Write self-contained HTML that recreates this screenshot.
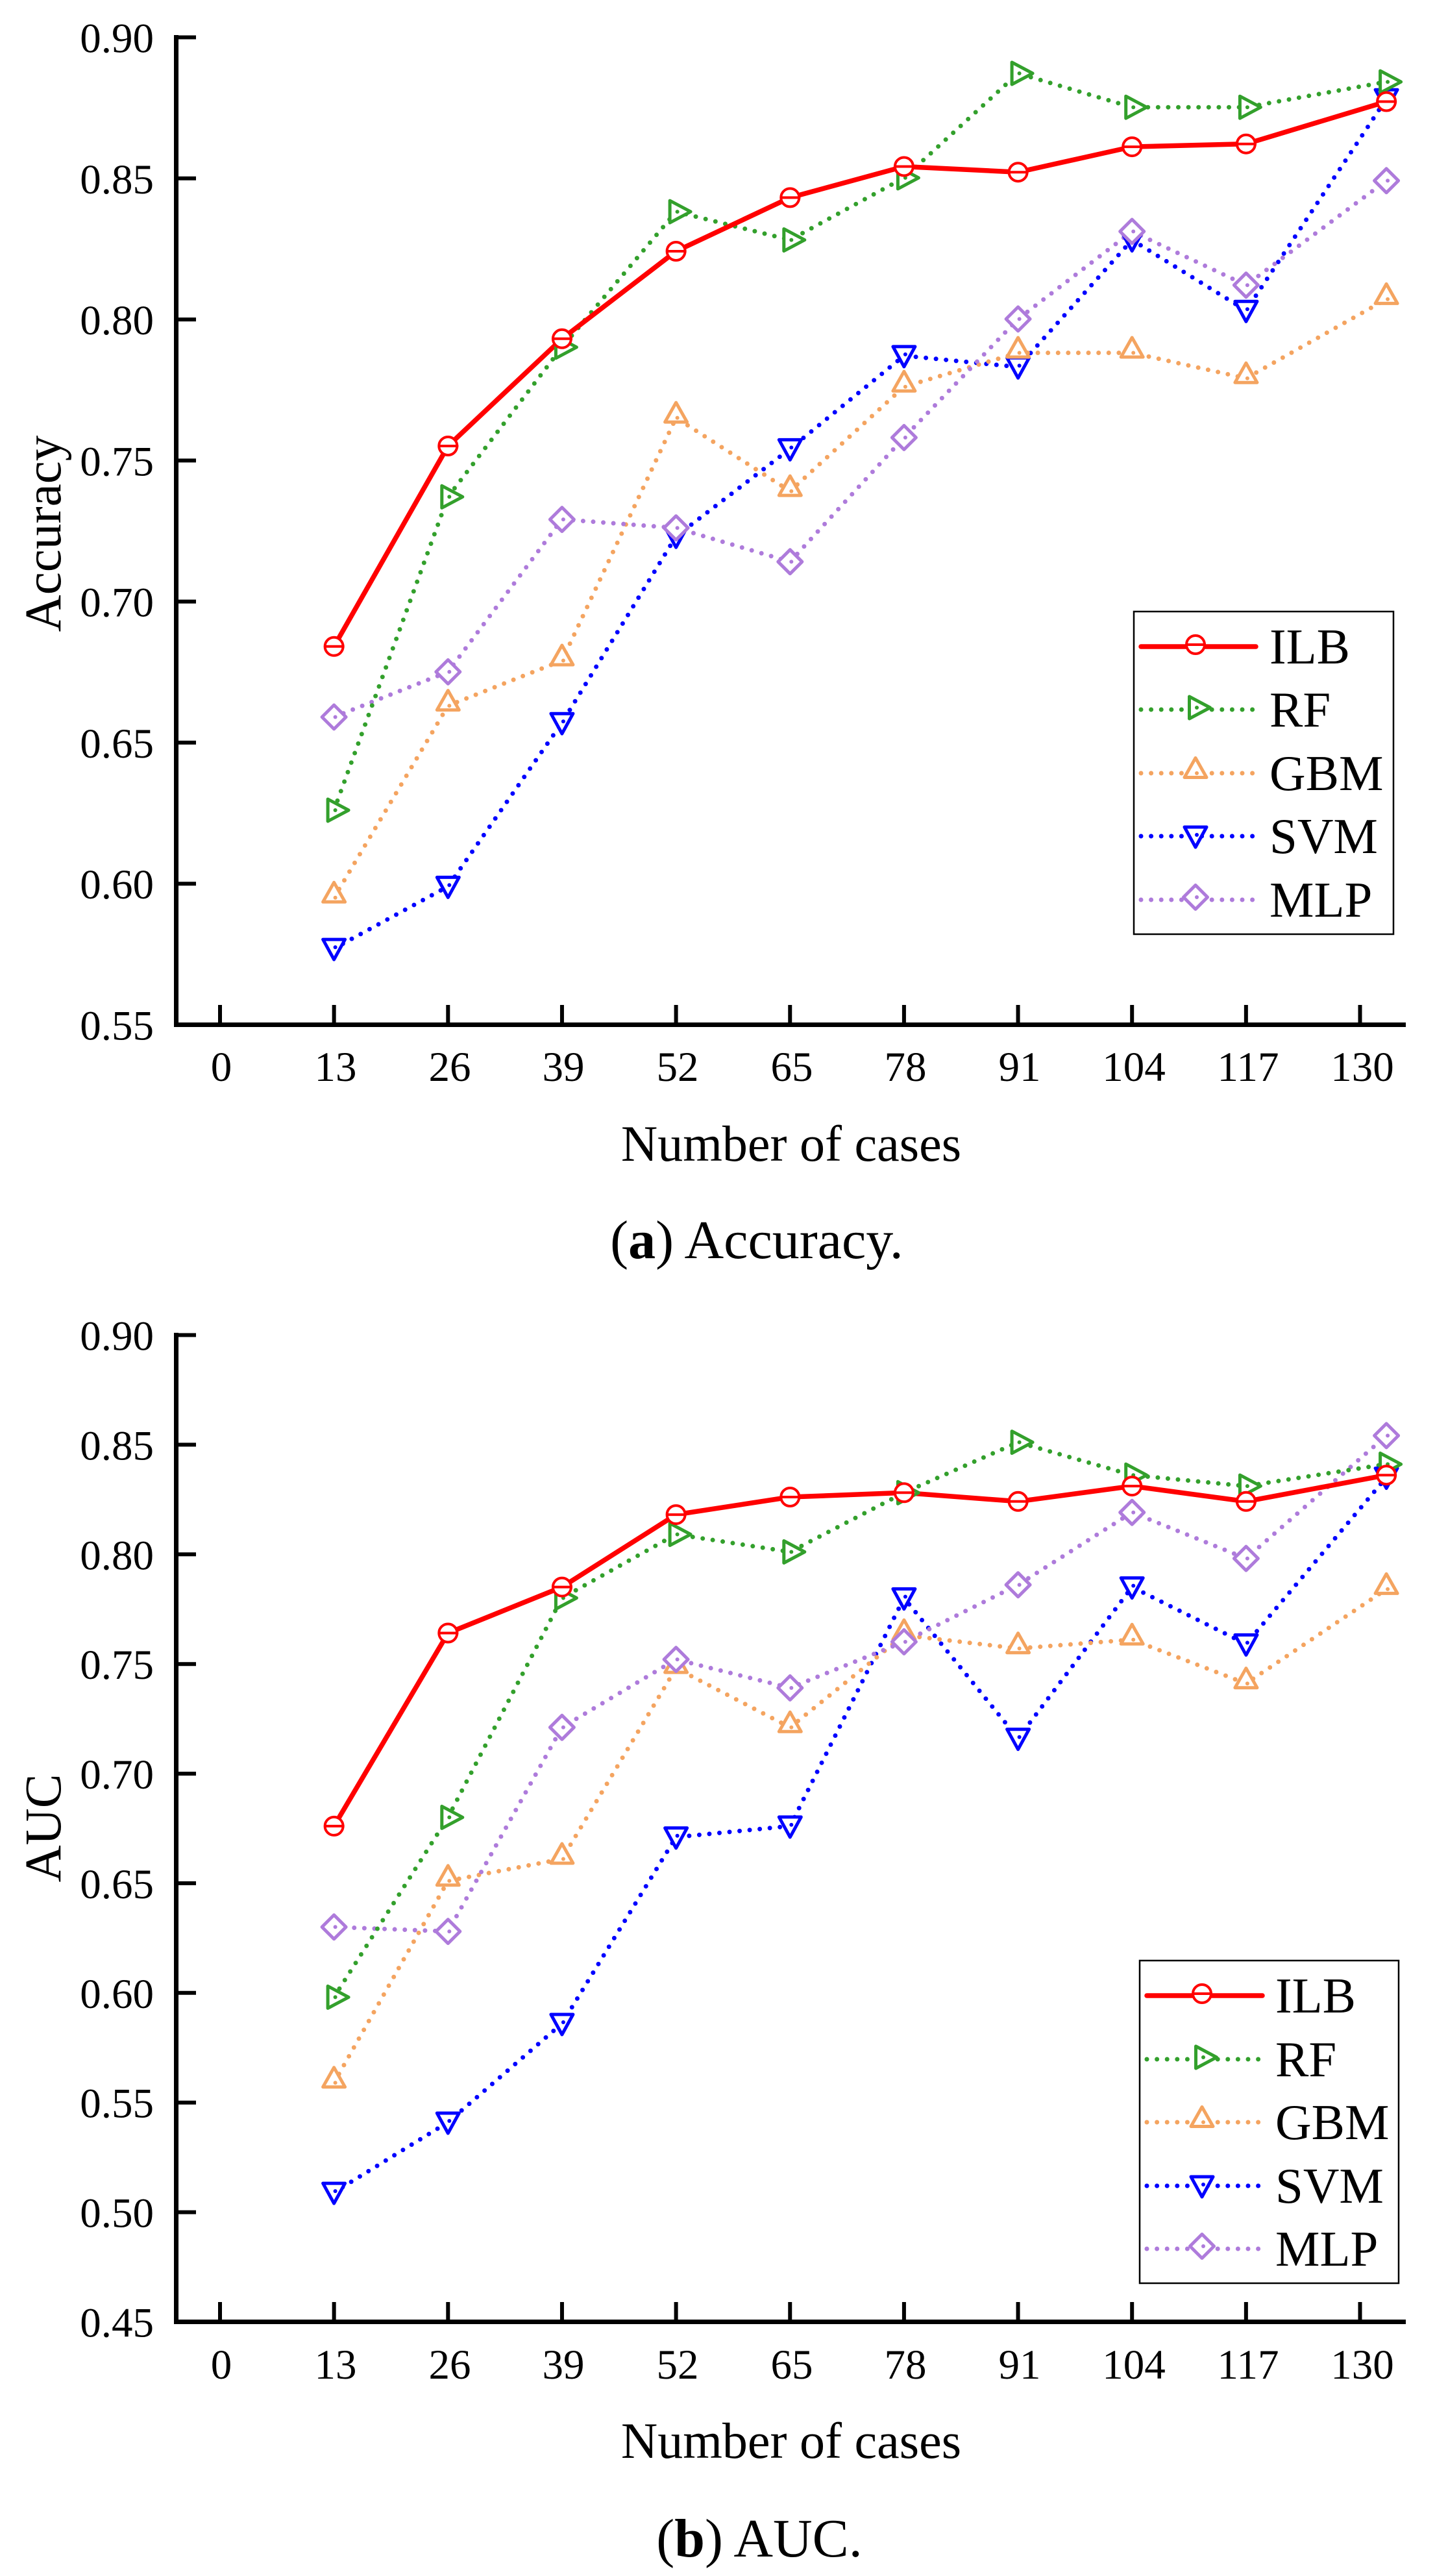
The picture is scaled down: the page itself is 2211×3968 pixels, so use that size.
<!DOCTYPE html>
<html>
<head>
<meta charset="utf-8">
<style>
  html, body { margin: 0; padding: 0; background: #ffffff; }
  svg { display: block; }
  text { font-family: "Liberation Serif", "Times New Roman", serif; fill: #000; }
</style>
</head>
<body>
<svg xmlns="http://www.w3.org/2000/svg" width="2211" height="3968" viewBox="0 0 2211 3968">
  <defs>
    <g id="mILB">
      <circle r="14" fill="#fff" stroke="#ff0000" stroke-width="4"/>
      <line x1="-15" y1="0" x2="16" y2="0" stroke="#ff0000" stroke-width="4"/>
    </g>
    <g id="mRF">
      <path d="M-9.5,-17 L22.5,0 L-9.5,17 Z" fill="#fff" stroke="#33a02c" stroke-width="5" stroke-linejoin="round"/>
      <circle cx="2" cy="0" r="3" fill="#33a02c"/>
    </g>
    <g id="mGBM">
      <path d="M0,-23.5 L17,6.5 L-17,6.5 Z" fill="#fff" stroke="#f4a460" stroke-width="5" stroke-linejoin="round"/>
      <circle cx="2" cy="0" r="3" fill="#f4a460"/>
    </g>
    <g id="mSVM">
      <path d="M-17,-14 L17,-14 L0,17 Z" fill="#fff" stroke="#0000ff" stroke-width="5" stroke-linejoin="round"/>
      <circle cx="2" cy="-2" r="3" fill="#0000ff"/>
    </g>
    <g id="mMLP">
      <path d="M0,-18.5 L18.5,0 L0,18.5 L-18.5,0 Z" fill="#fff" stroke="#ae7bdb" stroke-width="5" stroke-linejoin="round"/>
      <circle cx="2" cy="0" r="3" fill="#ae7bdb"/>
    </g>
  </defs>

  <!-- ================= TOP CHART (Accuracy) ================= -->
  <!-- axes -->
  <g stroke="#000" fill="none">
    <line x1="271.5" y1="54" x2="271.5" y2="1582" stroke-width="7"/>
    <line x1="268" y1="1578.5" x2="2166" y2="1578.5" stroke-width="7"/>
    <!-- y ticks -->
    <g stroke-width="6">
      <line x1="268" y1="57.5" x2="302" y2="57.5"/>
      <line x1="268" y1="274.8" x2="302" y2="274.8"/>
      <line x1="268" y1="492.1" x2="302" y2="492.1"/>
      <line x1="268" y1="709.4" x2="302" y2="709.4"/>
      <line x1="268" y1="926.6" x2="302" y2="926.6"/>
      <line x1="268" y1="1143.9" x2="302" y2="1143.9"/>
      <line x1="268" y1="1361.2" x2="302" y2="1361.2"/>
    </g>
    <!-- x ticks -->
    <g stroke-width="6">
      <line x1="339" y1="1548" x2="339" y2="1578"/>
      <line x1="514.65" y1="1548" x2="514.65" y2="1578"/>
      <line x1="690.3" y1="1548" x2="690.3" y2="1578"/>
      <line x1="865.95" y1="1548" x2="865.95" y2="1578"/>
      <line x1="1041.6" y1="1548" x2="1041.6" y2="1578"/>
      <line x1="1217.25" y1="1548" x2="1217.25" y2="1578"/>
      <line x1="1392.9" y1="1548" x2="1392.9" y2="1578"/>
      <line x1="1568.55" y1="1548" x2="1568.55" y2="1578"/>
      <line x1="1744.2" y1="1548" x2="1744.2" y2="1578"/>
      <line x1="1919.85" y1="1548" x2="1919.85" y2="1578"/>
      <line x1="2095.5" y1="1548" x2="2095.5" y2="1578"/>
    </g>
  </g>
  <!-- y tick labels -->
  <g font-size="65" text-anchor="end">
    <text x="237" y="80.5">0.90</text>
    <text x="237" y="297.8">0.85</text>
    <text x="237" y="515.1">0.80</text>
    <text x="237" y="732.4">0.75</text>
    <text x="237" y="949.6">0.70</text>
    <text x="237" y="1166.9">0.65</text>
    <text x="237" y="1384.2">0.60</text>
    <text x="237" y="1601.5">0.55</text>
  </g>
  <!-- x tick labels -->
  <g font-size="65" text-anchor="middle">
    <text x="341" y="1665">0</text>
    <text x="517" y="1665">13</text>
    <text x="693" y="1665">26</text>
    <text x="868" y="1665">39</text>
    <text x="1044" y="1665">52</text>
    <text x="1220" y="1665">65</text>
    <text x="1395" y="1665">78</text>
    <text x="1571" y="1665">91</text>
    <text x="1747" y="1665">104</text>
    <text x="1923" y="1665">117</text>
    <text x="2099" y="1665">130</text>
  </g>
  <text x="1219" y="1788" font-size="78" text-anchor="middle">Number of cases</text>
  <text transform="translate(93,822) rotate(-90)" font-size="79" text-anchor="middle">Accuracy</text>
  <text x="1166" y="1938" font-size="84" text-anchor="middle">(<tspan font-weight="bold">a</tspan>) Accuracy.</text>

  <!-- series top -->
  <g fill="none" stroke-linecap="round" stroke-linejoin="round">
    <polyline stroke="#0000ff" stroke-width="7" stroke-dasharray="0 15.6"
      points="514.6,1461.1 690.3,1365.4 865.9,1113.2 1041.6,826.2 1217.3,691.4 1392.9,547.9 1568.6,565.3 1744.2,369.6 1919.9,478.3 2136.1,152.2"/>
    <polyline stroke="#f4a460" stroke-width="7" stroke-dasharray="0 15.6"
      points="514.6,1382.8 690.3,1087.1 865.9,1017.5 1041.6,643.6 1217.3,756.6 1392.9,595.7 1568.6,543.5 1744.2,543.5 1919.9,582.7 2136.1,460.9"/>
    <polyline stroke="#ae7bdb" stroke-width="7" stroke-dasharray="0 15.6"
      points="514.6,1104.5 690.3,1034.9 865.9,800.1 1041.6,813.2 1217.3,865.3 1392.9,674.0 1568.6,491.4 1744.2,356.5 1919.9,439.2 2136.1,278.3"/>
    <polyline stroke="#33a02c" stroke-width="7" stroke-dasharray="0 15.6"
      points="514.6,1248.0 690.3,765.3 865.9,534.8 1041.6,326.1 1217.3,369.6 1392.9,273.9 1568.6,113.0 1744.2,165.2 1919.9,165.2 2136.1,126.1"/>
    <polyline stroke="#ff0000" stroke-width="7.5"
      points="514.6,995.8 690.3,687.0 865.9,521.8 1041.6,387.0 1217.3,304.4 1392.9,256.5 1568.6,265.2 1744.2,226.1 1919.9,221.7 2136.1,156.5"/>
  </g>
  <g>
    <use href="#mSVM" x="514.6" y="1461.1"/><use href="#mSVM" x="690.3" y="1365.4"/><use href="#mSVM" x="865.9" y="1113.2"/><use href="#mSVM" x="1041.6" y="826.2"/><use href="#mSVM" x="1217.3" y="691.4"/><use href="#mSVM" x="1392.9" y="547.9"/><use href="#mSVM" x="1568.6" y="565.3"/><use href="#mSVM" x="1744.2" y="369.6"/><use href="#mSVM" x="1919.9" y="478.3"/><use href="#mSVM" x="2136.1" y="152.2"/>
    <use href="#mGBM" x="514.6" y="1382.8"/><use href="#mGBM" x="690.3" y="1087.1"/><use href="#mGBM" x="865.9" y="1017.5"/><use href="#mGBM" x="1041.6" y="643.6"/><use href="#mGBM" x="1217.3" y="756.6"/><use href="#mGBM" x="1392.9" y="595.7"/><use href="#mGBM" x="1568.6" y="543.5"/><use href="#mGBM" x="1744.2" y="543.5"/><use href="#mGBM" x="1919.9" y="582.7"/><use href="#mGBM" x="2136.1" y="460.9"/>
    <use href="#mMLP" x="514.6" y="1104.5"/><use href="#mMLP" x="690.3" y="1034.9"/><use href="#mMLP" x="865.9" y="800.1"/><use href="#mMLP" x="1041.6" y="813.2"/><use href="#mMLP" x="1217.3" y="865.3"/><use href="#mMLP" x="1392.9" y="674.0"/><use href="#mMLP" x="1568.6" y="491.4"/><use href="#mMLP" x="1744.2" y="356.5"/><use href="#mMLP" x="1919.9" y="439.2"/><use href="#mMLP" x="2136.1" y="278.3"/>
    <use href="#mRF" x="514.6" y="1248.0"/><use href="#mRF" x="690.3" y="765.3"/><use href="#mRF" x="865.9" y="534.8"/><use href="#mRF" x="1041.6" y="326.1"/><use href="#mRF" x="1217.3" y="369.6"/><use href="#mRF" x="1392.9" y="273.9"/><use href="#mRF" x="1568.6" y="113.0"/><use href="#mRF" x="1744.2" y="165.2"/><use href="#mRF" x="1919.9" y="165.2"/><use href="#mRF" x="2136.1" y="126.1"/>
    <use href="#mILB" x="514.6" y="995.8"/><use href="#mILB" x="690.3" y="687.0"/><use href="#mILB" x="865.9" y="521.8"/><use href="#mILB" x="1041.6" y="387.0"/><use href="#mILB" x="1217.3" y="304.4"/><use href="#mILB" x="1392.9" y="256.5"/><use href="#mILB" x="1568.6" y="265.2"/><use href="#mILB" x="1744.2" y="226.1"/><use href="#mILB" x="1919.9" y="221.7"/><use href="#mILB" x="2136.1" y="156.5"/>
  </g>

  <!-- legend top -->
  <rect x="1747" y="942" width="400" height="497" fill="#fff" stroke="#000" stroke-width="2.5"/>
  <g fill="none" stroke-linecap="round">
    <line x1="1758" y1="996" x2="1935" y2="996" stroke="#ff0000" stroke-width="7.5"/>
    <line x1="1758" y1="1093" x2="1930" y2="1093" stroke="#33a02c" stroke-width="7" stroke-dasharray="0 15.6"/>
    <line x1="1758" y1="1191" x2="1930" y2="1191" stroke="#f4a460" stroke-width="7" stroke-dasharray="0 15.6"/>
    <line x1="1758" y1="1288" x2="1930" y2="1288" stroke="#0000ff" stroke-width="7" stroke-dasharray="0 15.6"/>
    <line x1="1758" y1="1386" x2="1930" y2="1386" stroke="#ae7bdb" stroke-width="7" stroke-dasharray="0 15.6"/>
  </g>
  <use href="#mILB" x="1842" y="993"/>
  <use href="#mRF" x="1842" y="1090"/>
  <use href="#mGBM" x="1842" y="1191"/>
  <use href="#mSVM" x="1842" y="1288"/>
  <use href="#mMLP" x="1842" y="1382"/>
  <g font-size="77">
    <text x="1956" y="1022">ILB</text>
    <text x="1956" y="1119">RF</text>
    <text x="1956" y="1217">GBM</text>
    <text x="1956" y="1314">SVM</text>
    <text x="1956" y="1412">MLP</text>
  </g>

  <!-- ================= BOTTOM CHART (AUC) ================= -->
  <g stroke="#000" fill="none">
    <line x1="271.5" y1="2053" x2="271.5" y2="3580" stroke-width="7"/>
    <line x1="268" y1="3576.5" x2="2166" y2="3576.5" stroke-width="7"/>
    <g stroke-width="6">
      <line x1="268" y1="2056.5" x2="302" y2="2056.5"/>
      <line x1="268" y1="2225.4" x2="302" y2="2225.4"/>
      <line x1="268" y1="2394.3" x2="302" y2="2394.3"/>
      <line x1="268" y1="2563.2" x2="302" y2="2563.2"/>
      <line x1="268" y1="2732.1" x2="302" y2="2732.1"/>
      <line x1="268" y1="2900.9" x2="302" y2="2900.9"/>
      <line x1="268" y1="3069.8" x2="302" y2="3069.8"/>
      <line x1="268" y1="3238.7" x2="302" y2="3238.7"/>
      <line x1="268" y1="3407.6" x2="302" y2="3407.6"/>
    </g>
    <g stroke-width="6">
      <line x1="339" y1="3546" x2="339" y2="3576"/>
      <line x1="514.65" y1="3546" x2="514.65" y2="3576"/>
      <line x1="690.3" y1="3546" x2="690.3" y2="3576"/>
      <line x1="865.95" y1="3546" x2="865.95" y2="3576"/>
      <line x1="1041.6" y1="3546" x2="1041.6" y2="3576"/>
      <line x1="1217.25" y1="3546" x2="1217.25" y2="3576"/>
      <line x1="1392.9" y1="3546" x2="1392.9" y2="3576"/>
      <line x1="1568.55" y1="3546" x2="1568.55" y2="3576"/>
      <line x1="1744.2" y1="3546" x2="1744.2" y2="3576"/>
      <line x1="1919.85" y1="3546" x2="1919.85" y2="3576"/>
      <line x1="2095.5" y1="3546" x2="2095.5" y2="3576"/>
    </g>
  </g>
  <g font-size="65" text-anchor="end">
    <text x="237" y="2079.5">0.90</text>
    <text x="237" y="2248.4">0.85</text>
    <text x="237" y="2417.3">0.80</text>
    <text x="237" y="2586.2">0.75</text>
    <text x="237" y="2755.1">0.70</text>
    <text x="237" y="2923.9">0.65</text>
    <text x="237" y="3092.8">0.60</text>
    <text x="237" y="3261.7">0.55</text>
    <text x="237" y="3430.6">0.50</text>
    <text x="237" y="3599.5">0.45</text>
  </g>
  <g font-size="65" text-anchor="middle">
    <text x="341" y="3664">0</text>
    <text x="517" y="3664">13</text>
    <text x="693" y="3664">26</text>
    <text x="868" y="3664">39</text>
    <text x="1044" y="3664">52</text>
    <text x="1220" y="3664">65</text>
    <text x="1395" y="3664">78</text>
    <text x="1571" y="3664">91</text>
    <text x="1747" y="3664">104</text>
    <text x="1923" y="3664">117</text>
    <text x="2099" y="3664">130</text>
  </g>
  <text x="1219" y="3786" font-size="78" text-anchor="middle">Number of cases</text>
  <text transform="translate(93,2816) rotate(-90)" font-size="79" text-anchor="middle">AUC</text>
  <text x="1170" y="3938" font-size="84" text-anchor="middle">(<tspan font-weight="bold">b</tspan>) AUC.</text>

  <g fill="none" stroke-linecap="round" stroke-linejoin="round">
    <polyline stroke="#0000ff" stroke-width="7" stroke-dasharray="0 15.6"
      points="514.6,3377.1 690.3,3269.0 865.9,3117.0 1041.6,2829.8 1217.3,2812.9 1392.9,2461.5 1568.6,2677.7 1744.2,2444.6 1919.9,2532.4 2136.1,2275.6"/>
    <polyline stroke="#f4a460" stroke-width="7" stroke-dasharray="0 15.6"
      points="514.6,3208.2 690.3,2897.3 865.9,2863.5 1041.6,2569.6 1217.3,2660.8 1392.9,2518.9 1568.6,2539.2 1744.2,2525.7 1919.9,2593.2 2136.1,2447.9"/>
    <polyline stroke="#ae7bdb" stroke-width="7" stroke-dasharray="0 15.6"
      points="514.6,2968.3 690.3,2975.1 865.9,2660.8 1041.6,2556.1 1217.3,2600.0 1392.9,2529.0 1568.6,2441.2 1744.2,2329.7 1919.9,2400.6 2136.1,2211.4"/>
    <polyline stroke="#33a02c" stroke-width="7" stroke-dasharray="0 15.6"
      points="514.6,3076.4 690.3,2799.4 865.9,2461.5 1041.6,2363.5 1217.3,2390.5 1392.9,2299.3 1568.6,2221.6 1744.2,2272.2 1919.9,2289.1 2136.1,2255.4"/>
    <polyline stroke="#ff0000" stroke-width="7.5"
      points="514.6,2812.9 690.3,2515.5 865.9,2444.6 1041.6,2333.1 1217.3,2306.0 1392.9,2299.3 1568.6,2312.8 1744.2,2289.1 1919.9,2312.8 2136.1,2272.2"/>
  </g>
  <g>
    <use href="#mSVM" x="514.6" y="3377.1"/><use href="#mSVM" x="690.3" y="3269.0"/><use href="#mSVM" x="865.9" y="3117.0"/><use href="#mSVM" x="1041.6" y="2829.8"/><use href="#mSVM" x="1217.3" y="2812.9"/><use href="#mSVM" x="1392.9" y="2461.5"/><use href="#mSVM" x="1568.6" y="2677.7"/><use href="#mSVM" x="1744.2" y="2444.6"/><use href="#mSVM" x="1919.9" y="2532.4"/><use href="#mSVM" x="2136.1" y="2275.6"/>
    <use href="#mGBM" x="514.6" y="3208.2"/><use href="#mGBM" x="690.3" y="2897.3"/><use href="#mGBM" x="865.9" y="2863.5"/><use href="#mGBM" x="1041.6" y="2569.6"/><use href="#mGBM" x="1217.3" y="2660.8"/><use href="#mGBM" x="1392.9" y="2518.9"/><use href="#mGBM" x="1568.6" y="2539.2"/><use href="#mGBM" x="1744.2" y="2525.7"/><use href="#mGBM" x="1919.9" y="2593.2"/><use href="#mGBM" x="2136.1" y="2447.9"/>
    <use href="#mMLP" x="514.6" y="2968.3"/><use href="#mMLP" x="690.3" y="2975.1"/><use href="#mMLP" x="865.9" y="2660.8"/><use href="#mMLP" x="1041.6" y="2556.1"/><use href="#mMLP" x="1217.3" y="2600.0"/><use href="#mMLP" x="1392.9" y="2529.0"/><use href="#mMLP" x="1568.6" y="2441.2"/><use href="#mMLP" x="1744.2" y="2329.7"/><use href="#mMLP" x="1919.9" y="2400.6"/><use href="#mMLP" x="2136.1" y="2211.4"/>
    <use href="#mRF" x="514.6" y="3076.4"/><use href="#mRF" x="690.3" y="2799.4"/><use href="#mRF" x="865.9" y="2461.5"/><use href="#mRF" x="1041.6" y="2363.5"/><use href="#mRF" x="1217.3" y="2390.5"/><use href="#mRF" x="1392.9" y="2299.3"/><use href="#mRF" x="1568.6" y="2221.6"/><use href="#mRF" x="1744.2" y="2272.2"/><use href="#mRF" x="1919.9" y="2289.1"/><use href="#mRF" x="2136.1" y="2255.4"/>
    <use href="#mILB" x="514.6" y="2812.9"/><use href="#mILB" x="690.3" y="2515.5"/><use href="#mILB" x="865.9" y="2444.6"/><use href="#mILB" x="1041.6" y="2333.1"/><use href="#mILB" x="1217.3" y="2306.0"/><use href="#mILB" x="1392.9" y="2299.3"/><use href="#mILB" x="1568.6" y="2312.8"/><use href="#mILB" x="1744.2" y="2289.1"/><use href="#mILB" x="1919.9" y="2312.8"/><use href="#mILB" x="2136.1" y="2272.2"/>
  </g>

  <!-- legend bottom -->
  <rect x="1756" y="3020" width="399" height="497" fill="#fff" stroke="#000" stroke-width="2.5"/>
  <g fill="none" stroke-linecap="round">
    <line x1="1767" y1="3074" x2="1945" y2="3074" stroke="#ff0000" stroke-width="7.5"/>
    <line x1="1767" y1="3172" x2="1939" y2="3172" stroke="#33a02c" stroke-width="7" stroke-dasharray="0 15.6"/>
    <line x1="1767" y1="3269" x2="1939" y2="3269" stroke="#f4a460" stroke-width="7" stroke-dasharray="0 15.6"/>
    <line x1="1767" y1="3367" x2="1939" y2="3367" stroke="#0000ff" stroke-width="7" stroke-dasharray="0 15.6"/>
    <line x1="1767" y1="3464" x2="1939" y2="3464" stroke="#ae7bdb" stroke-width="7" stroke-dasharray="0 15.6"/>
  </g>
  <use href="#mILB" x="1852" y="3071"/>
  <use href="#mRF" x="1852" y="3169"/>
  <use href="#mGBM" x="1852" y="3269"/>
  <use href="#mSVM" x="1852" y="3367"/>
  <use href="#mMLP" x="1852" y="3460"/>
  <g font-size="77">
    <text x="1965" y="3100">ILB</text>
    <text x="1965" y="3198">RF</text>
    <text x="1965" y="3295">GBM</text>
    <text x="1965" y="3393">SVM</text>
    <text x="1965" y="3490">MLP</text>
  </g>
</svg>
</body>
</html>
